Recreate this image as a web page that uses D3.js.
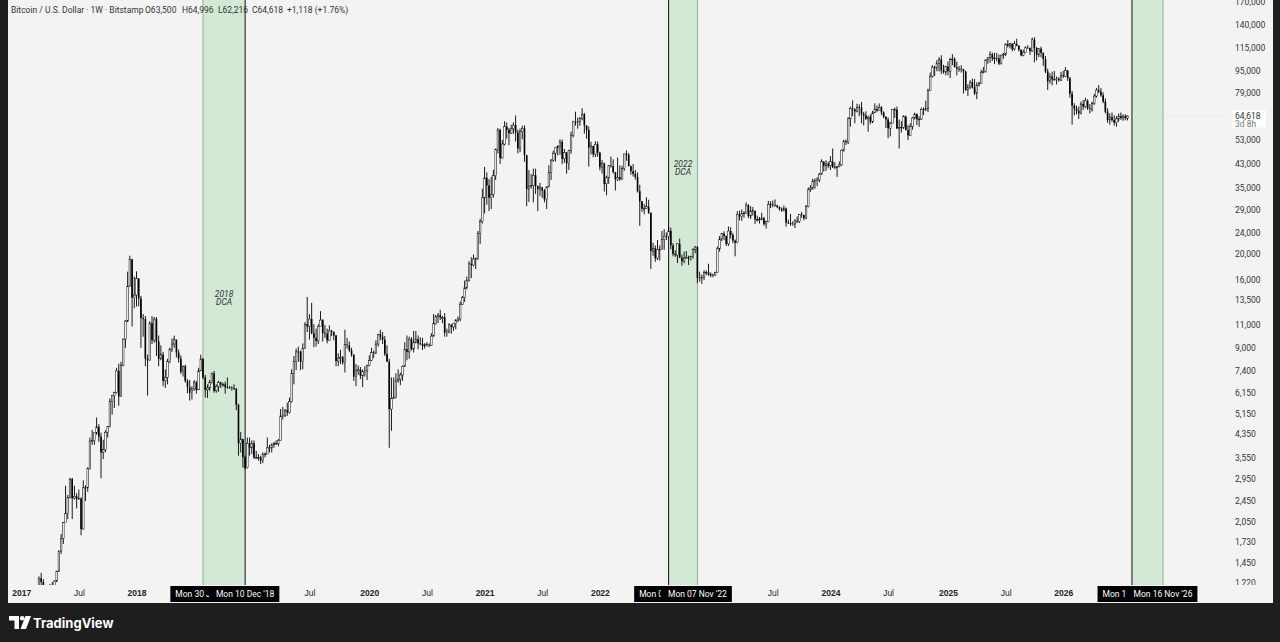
<!DOCTYPE html>
<html><head><meta charset="utf-8">
<script src="https://cdn.jsdelivr.net/npm/d3@7"></script>
<style>
html,body{margin:0;padding:0;background:#1e1e1e;}
svg{display:block;font-family:Roboto,"Liberation Sans",sans-serif;}
</style></head><body>
<svg id="c" width="1280" height="642"></svg>
<script>
// ---- DATA: weekly Bitstamp BTC/USD candles, [high, low, close]; open = previous close
const firstWeek = "2017-01-02";
const firstOpen = 965;
const w2017 = [[1150,880,908],[915,750,820],[920,810,920],[925,880,915],[1040,905,1020],[1060,920,995],[1060,975,1050],[1190,1045,1170],[1290,1140,1270],[1330,1090,1230],[1260,960,960],[1110,900,965],[1100,960,1080],[1210,1070,1190],[1230,1150,1180],[1250,1170,1240],[1350,1230,1350],[1610,1340,1600],[1850,1560,1780],[2050,1700,2040],[2790,2050,2200],[2580,2100,2520],[2980,2500,2950],[2980,2100,2510],[2790,2480,2550],[2620,2300,2500],[2700,2480,2500],[2530,1830,1930],[2920,1920,2740],[2800,2450,2740],[3260,2650,3230],[4200,3200,4080],[4480,3950,4090],[4380,3950,4370],[4980,4300,4600],[4710,4050,4230],[4380,2970,3700],[4120,3500,3790],[4470,3710,4390],[4620,4200,4610],[5860,4580,5700],[6000,5100,6000],[6200,5400,6150],[7600,6100,7400],[7870,5500,5950],[8000,5950,7770],[9750,7700,9700],[11400,9000,11300],[17200,11200,15200],[19700,15200,19100],[19200,10800,13800],[16500,12600,14100]];
const w2018 = [[17250,12800,16200],[16300,12800,13700],[14000,9000,11600],[12000,9900,11500],[11800,7700,8200],[8500,6000,8100],[11300,8100,11100],[11800,9300,9600],[11700,9400,11500],[11700,8400,9500],[10000,7700,8200],[9200,8100,8500],[8700,6500,6800],[7500,6400,7000],[8200,6600,8000],[9000,7900,8900],[9750,8700,9300],[9990,9000,9650],[9650,8300,8650],[8880,7950,8200],[8450,7200,7350],[7750,7050,7700],[7800,6700,6800],[6900,6120,6440],[6850,5750,6150],[6500,5800,6350],[6850,6250,6700],[6800,6100,6300],[7600,6300,7400],[8500,7400,8200],[8250,6900,7000],[7150,5900,6300],[6600,5880,6400],[6850,6250,6700],[7300,6650,7250],[7400,6150,6250],[6600,6150,6500],[6800,6200,6700],[6750,6400,6600],[6700,6470,6600],[6750,6100,6450],[7000,6370,6400],[6520,6350,6400],[6500,6250,6400],[6600,6300,6350],[6400,5300,5550],[5600,3600,4000],[4400,3700,4150],[4150,3250,3550],[3600,3200,3250],[4200,3230,4000],[4200,3600,3850]];
const w2019 = [[4100,3650,4000],[4100,3500,3550],[3750,3500,3550],[3650,3450,3550],[3600,3350,3450],[3700,3380,3650],[3700,3550,3650],[4200,3650,3850],[3950,3700,3850],[4000,3700,3950],[4050,3850,4000],[4100,3950,4000],[4150,3900,4100],[5350,4100,5050],[5450,4900,5050],[5350,5000,5300],[5650,5050,5200],[5900,5150,5700],[7500,5650,7250],[8400,6600,8000],[8950,7450,8700],[9100,8000,8700],[8800,7450,8000],[9350,7500,8950],[11200,8950,11000],[13880,10300,10800],[12000,9650,11500],[13200,10100,10200],[11000,9050,9800],[10600,9100,9550],[11000,9300,10800],[12300,10950,11400],[11500,9500,10200],[10950,9800,10150],[10600,9350,9600],[10900,9600,10400],[10500,9950,10300],[10350,9600,10000],[10050,7700,8050],[8600,7700,8250],[8850,7850,8300],[8400,7800,7950],[10500,7300,9250],[9800,8950,9200],[9500,8700,8800],[9000,8350,8500],[8500,6800,7050],[7850,6500,7400],[7750,7150,7500],[7650,6900,7100],[7500,6450,7350],[7700,7050,7400]];
const w2020 = [[7800,6850,7750],[8450,7700,8100],[9000,8050,8650],[8800,8250,8600],[9600,8550,9300],[10150,9100,10100],[10500,9600,9900],[10300,9300,9650],[9950,8400,8550],[9200,8000,8000],[8200,3850,5350],[7000,4450,5850],[7000,5850,5900],[7250,5850,6800],[7500,6700,6900],[7300,6550,7150],[7750,6800,7700],[9450,7650,8900],[10000,8100,8700],[9900,8200,9700],[9850,8800,8900],[10400,8650,9450],[10400,9350,9700],[10000,8900,9350],[9850,9200,9300],[9800,8850,9150],[9350,8950,9300],[9450,9100,9250],[9350,9050,9200],[10200,9150,9950],[12000,9900,11050],[11900,10950,11750],[12100,11100,11900],[12450,11400,11650],[11800,11100,11650],[12100,9900,10250],[10600,9900,10300],[11100,10200,10950],[11000,10150,10750],[11000,10400,11050],[11500,10550,11350],[11750,11200,11500],[13350,11300,13050],[14000,12950,13800],[15950,13300,15000],[16500,14800,16000],[18800,15800,18400],[19450,16300,18200],[19900,18000,19150],[19400,17600,19250],[24300,19000,23850],[27000,21800,26300]];
const w2021 = [[34800,25900,32200],[41900,28200,38200],[40000,30400,35800],[37800,28800,32250],[38500,29300,33100],[40900,32300,38900],[49000,37500,48600],[58300,47000,57400],[58000,43000,45200],[52700,45000,50900],[61800,50300,59000],[61200,53300,57400],[58400,50400,55800],[60000,55500,57900],[61200,55500,59800],[64900,52000,56200],[57500,47000,49100],[58000,47500,56600],[59500,53000,58200],[59600,43800,46400],[46000,30000,34700],[40800,31100,35600],[39500,34800,35800],[41300,31000,39000],[41300,33300,35600],[35800,28800,34700],[36600,32700,35300],[35200,32200,34250],[34700,31000,31800],[35400,29300,35400],[42500,35200,39900],[44800,37500,44400],[48100,43800,47100],[49400,43900,49300],[50400,46200,49900],[52900,46500,51800],[52900,42900,44900],[48800,43400,47300],[47600,39600,43200],[48500,40800,48200],[56600,46900,54900],[62000,53900,61500],[67000,59500,61300],[63700,58000,61500],[64000,59400,63300],[69000,62300,65500],[66300,55600,59700],[59300,53200,57300],[59100,42000,49400],[51900,46600,50100],[50000,45500,46700],[52100,45600,50800]];
const w2022 = [[52000,45700,47300],[47600,40700,41800],[44400,39600,43100],[43500,34000,36300],[38900,32900,38200],[42200,36300,42400],[45800,41700,42200],[44700,39600,40100],[40000,34300,37700],[45400,37200,38400],[42500,37200,37800],[42300,37600,41300],[46900,40500,46800],[48200,44200,46400],[47200,42100,42200],[42400,39200,40400],[42900,38600,39500],[40800,37600,38500],[40000,33700,34100],[36000,25400,31300],[31300,28600,29400],[30600,28000,29400],[32400,29300,29900],[31700,28100,28400],[28400,17600,20500],[22000,19700,21000],[21500,18700,19300],[22500,19000,20800],[21500,18900,20800],[24300,20800,22600],[24700,20700,23300],[24000,22500,23200],[25200,22700,24300],[25000,20800,21500],[21900,19600,20000],[20600,19500,19800],[21900,18500,21800],[22800,19300,19400],[19900,18100,18800],[20400,18500,19300],[20500,19300,19400],[19700,18200,19200],[19700,18900,19550],[21000,19200,20800],[21400,20100,21200],[21400,15600,16300],[17200,15800,16300],[16800,15500,16400],[17400,16000,17100],[17400,16700,17100],[18400,16600,16800],[17100,16400,16800]];
const w2023 = [[16900,16400,16700],[17200,16600,17100],[21300,17100,20900],[23300,20400,22700],[23900,22300,23750],[24250,22500,23300],[23400,21400,21800],[25250,21400,24300],[25100,22800,23500],[23900,21900,22400],[22600,19600,22000],[28800,21900,28000],[28900,26600,27500],[29200,26500,28200],[28800,27200,28300],[31000,28200,30300],[30500,27100,27600],[30000,26900,28800],[29800,27700,28900],[28800,25800,26800],[27700,26300,26800],[27400,25900,26900],[28400,26600,27100],[27400,25400,25800],[26500,24800,26300],[31400,26200,30500],[31300,29500,30500],[31500,29700,30300],[31800,29900,30200],[30400,29500,29800],[30000,28900,29300],[29700,28600,29000],[30200,28700,29400],[29700,25200,26100],[26800,25800,26000],[28100,25400,25800],[26400,25400,25800],[26900,24900,26500],[27500,26000,26300],[28000,26000,27950],[28600,27200,27900],[27800,26600,27100],[30300,26900,29900],[35200,29700,34500],[35900,33900,35000],[37900,34500,37100],[38000,34800,37400],[38400,35600,37500],[39800,36800,39400],[44700,39400,43800],[44000,40300,42300],[44300,40500,43000]];
const w2024 = [[43800,41400,42300],[45900,40800,43900],[49000,41500,41800],[43600,41100,41600],[42200,38500,42000],[43900,41800,42600],[48600,42300,48300],[52800,47700,52100],[52900,50500,51700],[64000,50900,63100],[70000,59000,68900],[73800,64500,68400],[68900,60700,67200],[71700,66600,69600],[71300,64500,69400],[72800,60700,65700],[66900,59600,64900],[67200,62500,63100],[64700,56500,64000],[65500,60200,61500],[67500,60800,66300],[71900,66300,68500],[70600,66700,67700],[71900,68500,69600],[70200,65100,66600],[67200,63400,64200],[64500,58400,62700],[63800,53500,58200],[61500,54300,60800],[68400,60800,68200],[69400,63500,68200],[70000,57800,58100],[62700,49000,58700],[61800,56100,58700],[65000,57800,64200],[64900,57200,57300],[59800,52600,54800],[60700,54600,59200],[64100,57500,63500],[66500,62700,65600],[66000,59800,62800],[64500,58900,62900],[69400,62500,68400],[69500,65100,68000],[73600,67500,68700],[81500,66800,80400],[93500,80300,90600],[99600,89500,97900],[98900,90700,97200],[104000,94500,101200],[106600,94300,104500],[108300,92200,95200],[99900,92600,93700]];
const w2025 = [[98900,91300,98300],[102700,91200,94500],[106000,89200,104400],[109300,99500,104700],[106400,97800,97700],[102500,91200,96500],[98800,94100,96100],[99500,93400,96300],[96500,78200,94200],[95000,80000,80700],[84700,76600,82600],[87500,81200,86100],[88800,81600,82300],[88500,77200,78400],[86000,74500,83700],[86500,83100,85100],[95800,85100,93700],[97900,92800,94300],[104300,93400,104100],[106600,100700,106400],[112000,101500,109000],[110700,103100,105600],[110500,100400,105700],[110400,102700,105500],[108900,99600,100900],[108500,100000,108400],[110500,105100,109200],[119500,107500,119100],[123200,115700,117300],[120200,114700,119400],[119800,112000,114200],[122300,112700,119300],[124500,116800,117500],[117600,111700,113500],[113800,107300,108200],[113400,107300,111100],[116800,110600,115300],[117900,114400,115300],[115400,108600,112200],[125700,111600,123500],[126200,102000,115200],[116000,103500,108700],[114000,106500,114500],[116400,106300,110500],[110800,98900,104800],[107500,93000,94300],[96600,80600,86800],[93000,85000,90400],[94200,83800,88200],[94600,87500,88200],[90400,84400,88500],[90000,86500,87600]];
const w2026 = [[94000,87000,91300],[94800,89300,90600],[97900,90000,95000],[95500,87000,89000],[90000,75500,78000],[80000,60000,70500],[72000,65000,68800],[70500,65500,67500],[70000,63000,66000],[73000,65500,71500],[74000,68000,70000],[75500,69000,73500],[74500,68000,69000],[71500,66000,68500],[73000,67000,72000],[78000,71000,76500],[82000,75500,80500],[84000,78500,79500],[82000,76000,77000],[79000,72000,73000],[75000,66000,67000],[69000,61000,62500],[66000,60000,64000],[66500,61500,62500],[65000,59500,61000],[64500,59000,63000],[66000,61500,64500],[66500,62500,63500],[65500,62000,64500],[65500,62300,63500],[64996,62216,64618]];
const lastOpen = 63500;

const yTicks = [170000,140000,115000,95000,79000,53000,43000,35000,29000,24000,20000,16000,13500,11000,9000,7400,6150,5150,4350,3550,2950,2450,2050,1730,1450,1220];
// visible time-axis labels (others are covered by the date markers)
const xTickDates = ["2017-01-02","2017-07-03","2018-01-01","2019-07-01","2020-01-06","2020-07-06","2021-01-04","2021-07-05","2022-01-03","2023-07-03","2024-01-01","2024-07-01","2025-01-06","2025-07-07","2026-01-05"];
const xTickLabels = ["2017","Jul","2018","Jul","2020","Jul","2021","Jul","2022","Jul","2024","Jul","2025","Jul","2026"];
const dcaFrom = ["2018-07-30","2022-08-08","2026-08-10"];
const dcaTo = ["2018-12-10","2022-11-07","2026-11-16"];
const dcaFromLabels = ["Mon 30 Jul '18","Mon 08 Aug '22","Mon 10 Aug '26"];
const dcaToLabels = ["Mon 10 Dec '18","Mon 07 Nov '22","Mon 16 Nov '26"];
const dcaNames = ["2018","2022",""];
const dcaLabelPrice = [13900, 42000, null];
const header = ["Bitcoin / U.S. Dollar · 1W · Bitstamp","O63,500","H64,996","L62,216","C64,618","+1,118 (+1.76%)"];
const lastPrice = 64618, countdown = "3d 8h";

// ---- BUILD
const parse = d3.utcParse("%Y-%m-%d");
const bars = [];
{
  let prev = firstOpen, k = 0;
  const start = parse(firstWeek);
  [w2017,w2018,w2019,w2020,w2021,w2022,w2023,w2024,w2025,w2026].forEach(arr=>{
    arr.forEach(([h,l,c])=>{
      bars.push({date:d3.utcDay.offset(start,7*k), o:prev, h:h, l:l, c:c});
      prev = c; k++;
    });
  });
  bars[bars.length-1].o = lastOpen;
}

const svg = d3.select("#c");
const P = {l:8, r:1222, t:0, b:585, axR:1273, axB:603};
const x = d3.scaleUtc().domain([parse("2018-01-01"), parse("2026-11-16")]).range([136.5,1163]);
const y = d3.scaleLog().domain([1220,140000]).range([583,25]);

// background
svg.append("rect").attr("x",0).attr("y",0).attr("width",1280).attr("height",642).attr("fill","#1e1e1e");
svg.append("rect").attr("x",P.l).attr("y",0).attr("width",P.axR-P.l).attr("height",P.axB).attr("fill","#f3f3f3");

svg.append("clipPath").attr("id","pc").append("rect").attr("x",P.l).attr("y",P.t).attr("width",P.r-P.l).attr("height",P.b-P.t);
const g = svg.append("g").attr("clip-path","url(#pc)");

// DCA bands
const bands = dcaFrom.map((f,i)=>({x0:x(parse(f)), x1:x(parse(dcaTo[i])), name:dcaNames[i], fl:dcaFromLabels[i], tl:dcaToLabels[i], i:i}));
g.selectAll("rect.band").data(bands).join("rect").attr("class","band")
  .attr("x",d=>d.x0).attr("width",d=>d.x1-d.x0).attr("y",0).attr("height",P.b).attr("fill","#d4e9d5");
const edgeBlack = [1,0,0]; // which edge carries the dark marker line: 1 = right, 0 = left
bands.forEach(d=>{
  const bx = edgeBlack[d.i]===1 ? d.x1 : d.x0;
  const gx = edgeBlack[d.i]===1 ? d.x0 : d.x1;
  g.append("line").attr("x1",gx).attr("x2",gx).attr("y1",0).attr("y2",P.b).attr("stroke","#8fae93").attr("stroke-width",1);
  g.append("line").attr("x1",bx).attr("x2",bx).attr("y1",0).attr("y2",P.b).attr("stroke","#111").attr("stroke-width",1);
});
bands.filter(d=>d.name).forEach(d=>{
  const cx=(d.x0+d.x1)/2, cy=y(dcaLabelPrice[d.i]);
  const t = g.append("text").attr("x",cx).attr("y",cy).attr("text-anchor","middle").attr("font-size",8.5).attr("font-style","italic").attr("fill","#333");
  t.append("tspan").attr("x",cx).attr("dy",0).text(d.name);
  t.append("tspan").attr("x",cx).attr("dy",8.5).text("DCA");
});

// candles
const bw = 1.6;
g.selectAll("line.wick").data(bars).join("line").attr("class","wick")
  .attr("x1",d=>x(d.date)).attr("x2",d=>x(d.date)).attr("y1",d=>y(d.h)).attr("y2",d=>y(d.l))
  .attr("stroke","#000").attr("stroke-width",0.9);
g.selectAll("rect.body").data(bars).join("rect").attr("class","body")
  .attr("x",d=>x(d.date)-bw/2).attr("width",bw)
  .attr("y",d=>y(Math.max(d.o,d.c))).attr("height",d=>Math.max(0.7,Math.abs(y(d.o)-y(d.c))))
  .attr("fill",d=>d.c>=d.o?"#ffffff":"#000").attr("stroke","#000").attr("stroke-width",d=>d.c>=d.o?0.5:0);

// last price line
g.append("line").attr("x1",x(bars[bars.length-1].date)+2).attr("x2",P.r).attr("y1",y(lastPrice)).attr("y2",y(lastPrice))
  .attr("stroke","#ccc").attr("stroke-width",0.6).attr("stroke-dasharray","1,2");

// Y axis
const ya = svg.append("g").attr("transform",`translate(1235,0)`)
  .call(d3.axisRight(y).tickValues(yTicks).tickFormat(d3.format(",")).tickSize(0).tickPadding(0));
ya.select(".domain").remove();
ya.selectAll("text").attr("font-size",8.5).attr("fill","#333").attr("font-family","Roboto,'Liberation Sans',sans-serif");
svg.append("rect").attr("x",P.axR).attr("y",0).attr("width",1280-P.axR).attr("height",P.axB).attr("fill","#1e1e1e");
svg.append("rect").attr("x",P.l).attr("y",P.b).attr("width",P.axR-P.l).attr("height",P.axB-P.b).attr("fill","#f3f3f3");

// price label
const ly = y(lastPrice);
svg.append("rect").attr("x",1232).attr("y",ly-5.5).attr("width",34).attr("height",17).attr("fill","#ffffff");
svg.append("text").attr("x",1235).attr("y",ly).attr("dy","0.35em").attr("font-size",8.5).attr("fill","#333").text(d3.format(",")(lastPrice));
svg.append("text").attr("x",1235).attr("y",ly+8.5).attr("dy","0.35em").attr("font-size",8.5).attr("fill","#777").text(countdown);

// X axis
const xa = svg.append("g").attr("transform",`translate(0,${P.b})`)
  .call(d3.axisBottom(x).tickValues(xTickDates.map(parse)).tickFormat((d,i)=>xTickLabels[i]).tickSize(0).tickPadding(5));
xa.select(".domain").remove();
xa.selectAll("text").attr("font-size",8.5).attr("fill","#222").attr("dy","0.71em")
  .attr("font-weight",(d,i)=>xTickLabels[i]==="Jul"?"normal":"bold");

// date marker boxes on the time axis (the right marker's box covers part of the left one)
bands.forEach((d,bi)=>{
  const items = [[d.x0,d.fl],[d.x1,d.tl]];
  const tx1 = svg.append("text").attr("x",d.x1).attr("y",594).attr("dy","0.35em").attr("text-anchor","middle").attr("font-size",8.5).text(d.tl);
  const w1 = tx1.node().getComputedTextLength()+10; tx1.remove();
  const cutX = d.x1 - w1/2;
  svg.append("clipPath").attr("id","lc"+bi).append("rect").attr("x",0).attr("y",580).attr("width",cutX-2).attr("height",30);
  items.forEach(([px,lab],j)=>{
    const grp = svg.append("g");
    const t = grp.append("text").attr("x",px).attr("y",594).attr("dy","0.35em").attr("text-anchor","middle").attr("font-size",8.5).attr("fill","#fff").text(lab);
    const wdt = t.node().getComputedTextLength()+10;
    grp.insert("rect","text").attr("x",px-wdt/2).attr("y",586).attr("width",wdt).attr("height",16).attr("fill","#000");
    if(j===0) t.attr("clip-path","url(#lc"+bi+")");
  });
});

// header
const hx = [11,145,182,218,252,287];
header.forEach((s,i)=>{
  svg.append("text").attr("x",hx[i]).attr("y",10).attr("dy","0.35em").attr("font-size",8.5).attr("fill","#333").text(s);
});

// TradingView logo
const lg = svg.append("g").attr("fill","#fff");
lg.append("path").attr("d","M9,616 H19 V629 H14.5 V620.5 H9 Z");
lg.append("circle").attr("cx",22.2).attr("cy",618.3).attr("r",2.3);
lg.append("path").attr("d","M25.5,616 H31 L26,629 H20.5 Z");
svg.append("text").attr("x",33).attr("y",623).attr("dy","0.35em").attr("font-size",13).attr("font-weight","bold").attr("fill","#fff").attr("font-family","Inter,Roboto,sans-serif").text("TradingView");
</script>
</body></html>
